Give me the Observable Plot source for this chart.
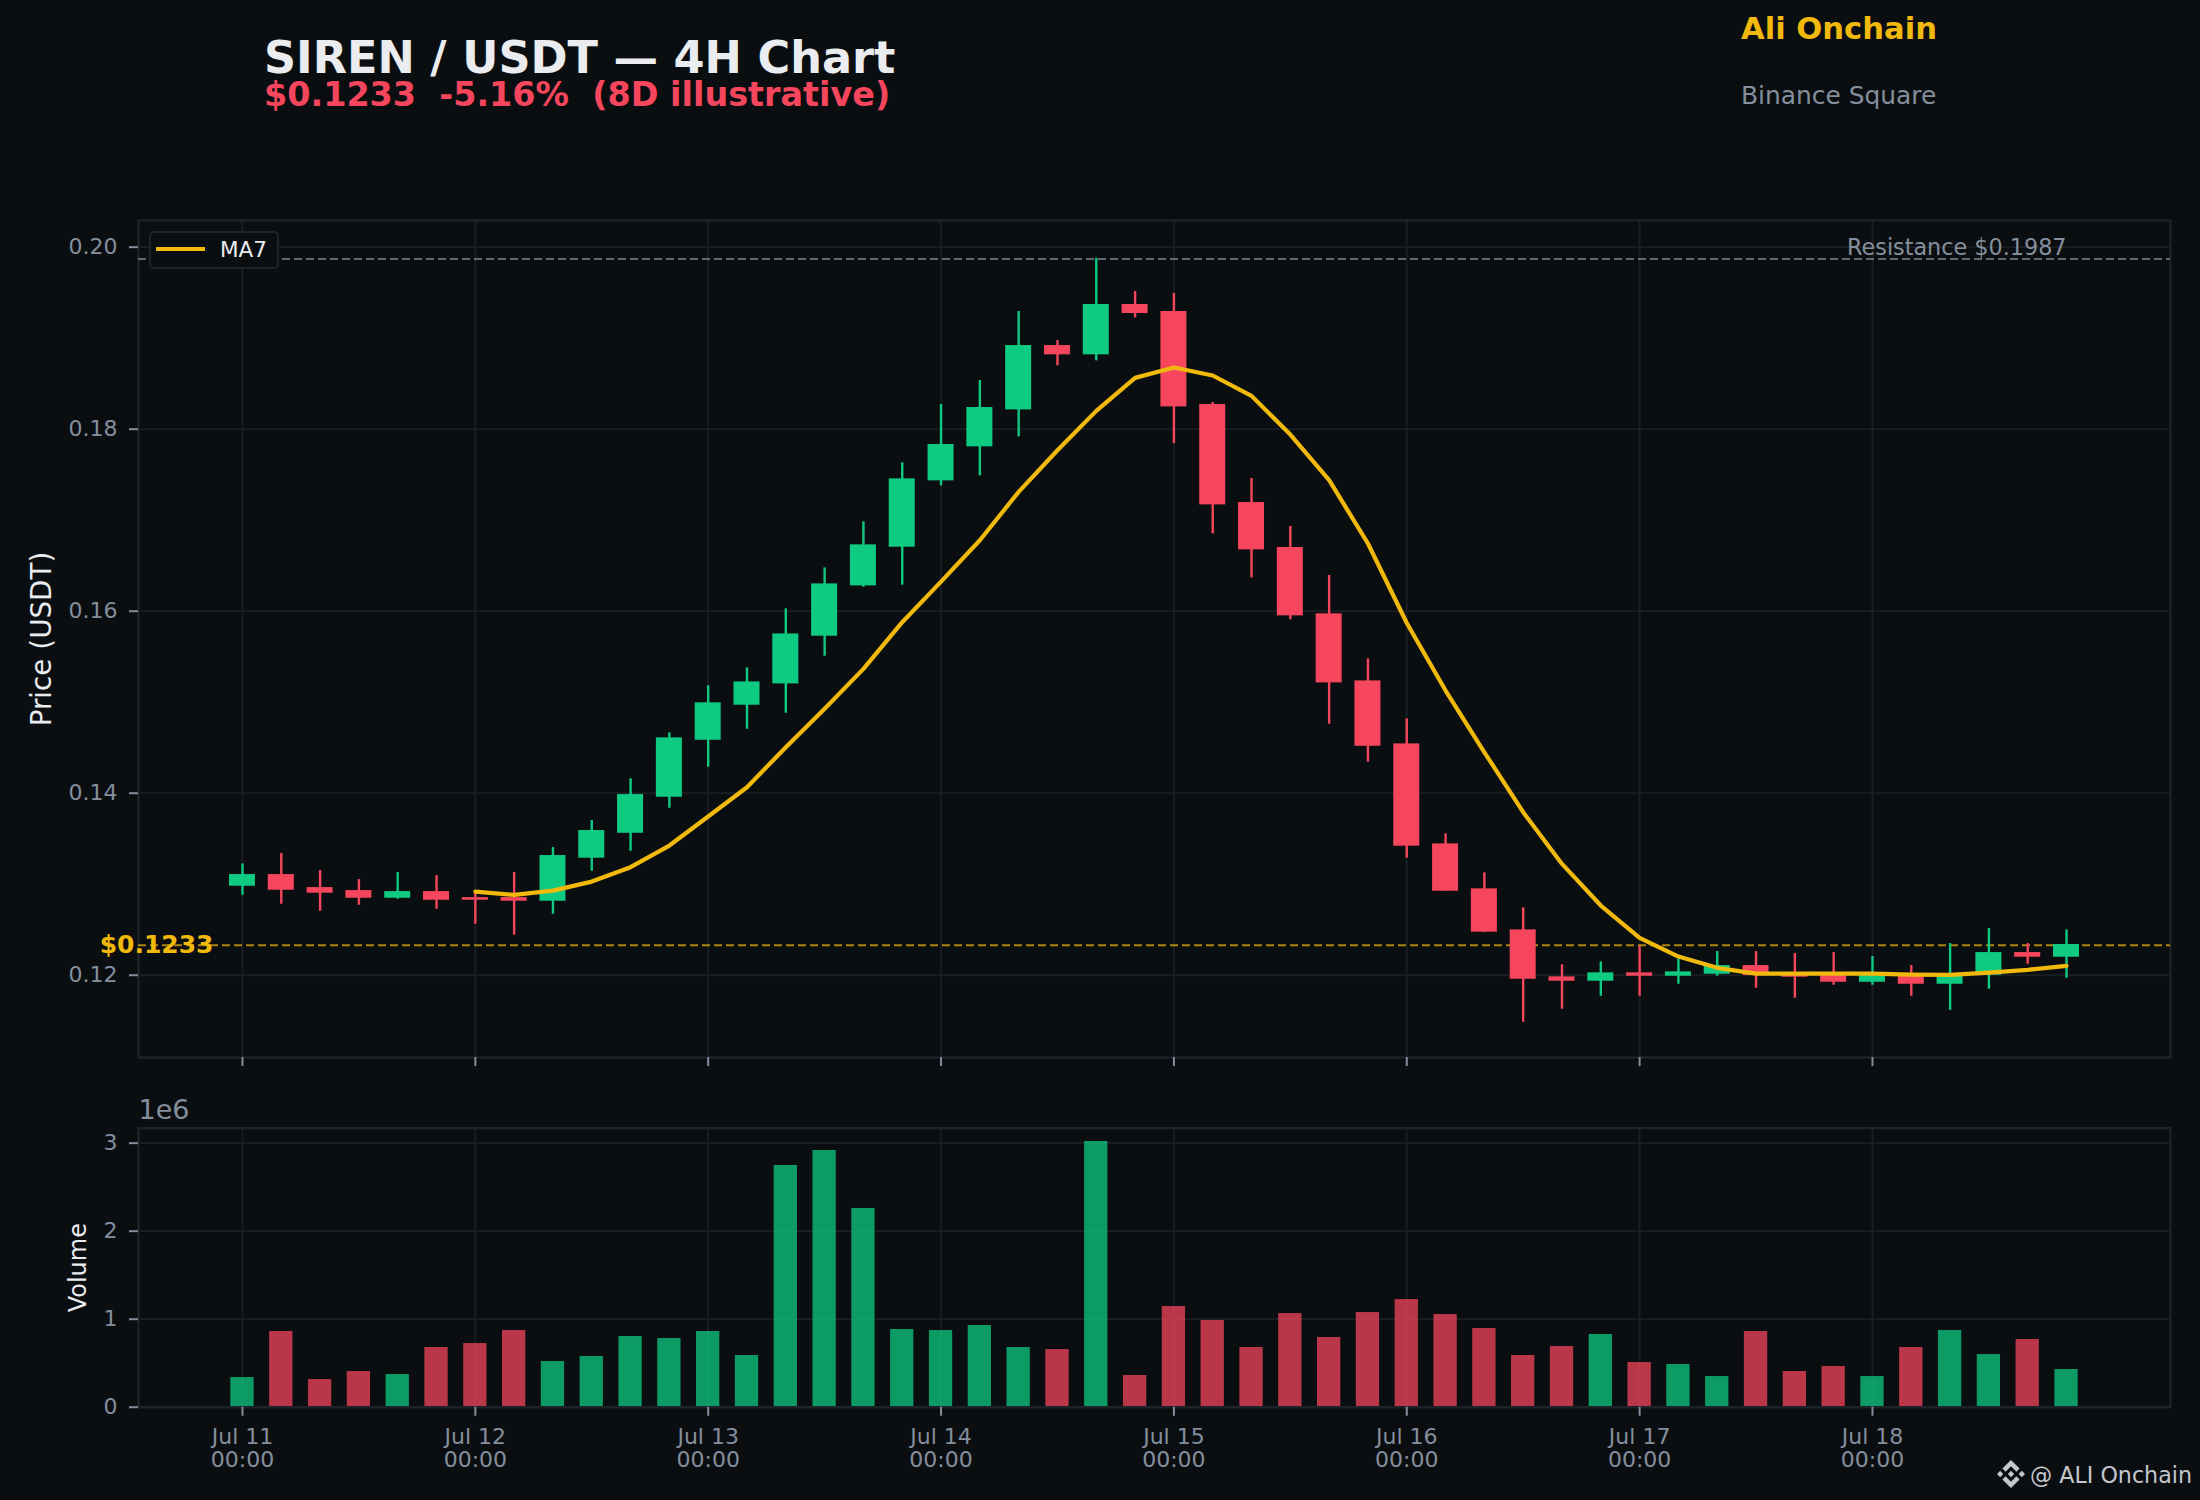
<!DOCTYPE html>
<html><head><meta charset="utf-8">
<script src="https://cdn.jsdelivr.net/npm/d3@7"></script>
<script src="https://cdn.jsdelivr.net/npm/@observablehq/plot@0.6"></script>
<style>
html,body{margin:0;padding:0;background:#0b0e11;}
#page{position:relative;width:2200px;height:1500px;overflow:hidden;background:#0b0e11;font-family:"DejaVu Sans",sans-serif;}
.t{position:absolute;white-space:pre;line-height:1;}
#priceChart,#volumeChart{position:absolute;left:0;}
#priceChart{top:200px;}
#volumeChart{top:1080px;}
svg{overflow:visible;}
#legend{position:absolute;left:149px;top:231px;width:130px;height:38px;border:2px solid #1e2329;border-radius:5px;box-sizing:border-box;background:#0b0e11;}
#legend i{position:absolute;left:5px;top:14px;width:49px;height:4px;background:#f0b90b;}
#legend span{position:absolute;left:69px;top:6px;font-size:21.5px;color:#eaecef;line-height:1;}
#mark{position:absolute;left:1997px;top:1460px;width:28px;height:28px;}
</style></head><body>
<div id="page">
  <div class="t" id="title" style="left:264px;top:36px;font-size:44.6px;font-weight:700;color:#eaecef">SIREN / USDT — 4H Chart</div>
  <div class="t" id="sub" style="left:264px;top:78px;font-size:33.4px;font-weight:700;color:#f6465d">$0.1233  -5.16%  (8D illustrative)</div>
  <div class="t" style="left:1741px;top:14px;font-size:30.6px;font-weight:700;color:#f0b90b">Ali Onchain</div>
  <div class="t" style="left:1741px;top:84px;font-size:24.9px;color:#848e9c">Binance Square</div>
  <div id="priceChart"></div>
  <div id="volumeChart"></div>
  <div id="legend"><i></i><span>MA7</span></div>
  <svg id="mark" viewBox="0 0 24 24"><path fill="#c4c7cc" d="M16.624 13.9202l2.7175 2.7154-7.353 7.353-7.353-7.352 2.7175-2.7164 4.6355 4.6595 4.6356-4.6595zm4.6366-4.6366L24 12l-2.7154 2.7164L18.5682 12l2.6924-2.7164zm-9.272.001l2.7163 2.6914-2.7164 2.7174v-.001L9.2721 12l2.7164-2.7154zm-9.2722-.001L5.4088 12l-2.6914 2.6924L0 12l2.7164-2.7164zM11.9885.0115l7.353 7.329-2.7174 2.7154-4.6356-4.6356-4.6355 4.6595-2.7174-2.7154 7.353-7.353z"/></svg>
  <div class="t" style="left:2030px;top:1464px;font-size:22.2px;color:#c4c7cc">@ ALI Onchain</div>
</div>
<script>
const times = ["07-11 00","07-11 04","07-11 08","07-11 12","07-11 16","07-11 20","07-12 00","07-12 04","07-12 08","07-12 12","07-12 16","07-12 20","07-13 00","07-13 04","07-13 08","07-13 12","07-13 16","07-13 20","07-14 00","07-14 04","07-14 08","07-14 12","07-14 16","07-14 20","07-15 00","07-15 04","07-15 08","07-15 12","07-15 16","07-15 20","07-16 00","07-16 04","07-16 08","07-16 12","07-16 16","07-16 20","07-17 00","07-17 04","07-17 08","07-17 12","07-17 16","07-17 20","07-18 00","07-18 04","07-18 08","07-18 12","07-18 16","07-18 20"];
const open = [.12978,.13106,.12963,.1293,.12846,.12919,.12853,.12853,.12813,.13286,.1356,.13956,.14582,.14967,.15201,.15725,.16278,.16703,.17432,.17806,.18212,.18919,.18817,.1937,.19293,.18271,.17194,.167,.15971,.15234,.14542,.13443,.12949,.12498,.11982,.11934,.12026,.11989,.12011,.12106,.12005,.1201,.11923,.1199,.11901,.12,.12249,.12198];
const close = [.13106,.12934,.12901,.12846,.12919,.12824,.12824,.12813,.13315,.1359,.13985,.14608,.14993,.15223,.1575,.163,.16729,.17454,.17832,.18238,.18919,.18817,.1937,.19271,.18245,.17168,.16674,.15949,.15212,.14516,.13418,.12923,.12473,.11956,.11934,.12026,.11989,.12037,.12106,.11996,.11978,.11923,.1201,.11901,.1199,.12249,.12198,.12337];
const high = [.13223,.13337,.1315,.13051,.13128,.13095,.12912,.13128,.13403,.137,.14158,.14663,.1518,.15377,.16026,.16476,.16982,.1763,.18271,.18535,.19293,.18974,.19879,.19513,.19491,.18293,.17458,.1693,.16392,.15476,.14817,.13553,.13125,.1274,.12114,.12147,.12315,.12179,.1226,.1226,.12238,.12249,.12205,.12106,.12348,.12513,.12348,.12498];
const low = [.12879,.1278,.12703,.12769,.12835,.12725,.1256,.1244,.1267,.13143,.13363,.13835,.14286,.14703,.14879,.15505,.16264,.16286,.17377,.17487,.17916,.18696,.18751,.19223,.17842,.1685,.16366,.15905,.14758,.14341,.13286,.12923,.12473,.11484,.11626,.11769,.11769,.11901,.11989,.11857,.11747,.1189,.1189,.11769,.11615,.11846,.12121,.11967];
const ma7 = [null,null,null,null,null,null,.12919,.12883,.1293,.13029,.13187,.13425,.13744,.14066,.14505,.14927,.15366,.15879,.16325,.1678,.17311,.17769,.18201,.18564,.18678,.1859,.18366,.17941,.1744,.16744,.1587,.15128,.1445,.13791,.13223,.12766,.1241,.12205,.12081,.12018,.12018,.12018,.12018,.12007,.12004,.12029,.12059,.12103];
const volume = [337000,860000,314000,405000,371000,678000,723000,871000,519000,576000,803000,780000,860000,587000,2746000,2917000,2258000,883000,871000,928000,678000,655000,3019000,360000,1144000,985000,678000,1064000,792000,1076000,1223000,1053000,894000,587000,689000,826000,508000,485000,348000,860000,405000,462000,348000,678000,871000,598000,769000,428000];
const priceTicks = [0.12,0.14,0.16,0.18,0.20];
const volumeTicks = [0,1e6,2e6,3e6];
const dayTicks = ["07-11 00","07-12 00","07-13 00","07-14 00","07-15 00","07-16 00","07-17 00","07-18 00"];
const dayLabels = ["Jul 11","Jul 12","Jul 13","Jul 14","Jul 15","Jul 16","Jul 17","Jul 18"];
const current = 0.1233, resistance = 0.1987;
const xDomain = [new Date("2025-07-10T13:17:00Z"), new Date("2025-07-19T06:43:00Z")];
const priceDomain = [0.11096, 0.20293];
const volumeDomain = [0, 3170000];

const BG="#0b0e11", UP="#0ecb81", DOWN="#f6465d", GOLD="#f0b90b", GREY="#848e9c", GRID="#1b1e23", SPINE="#1e2329", LIGHT="#eaecef";
const FONT='"DejaVu Sans", sans-serif';
const toDate = t => new Date(`2025-${t.replace(" ","T")}:00Z`);
const H4 = 4*3600*1000;
const rows = times.map((t,i)=>({t:toDate(t),open:open[i],close:close[i],high:high[i],low:low[i],ma:ma7[i],vol:volume[i],up:close[i]>=open[i]}));
const dayDates = dayTicks.map(toDate);
const dayFormat = d => `${dayLabels[dayDates.findIndex(x=>+x===+d)]}\n00:00`;
const baseStyle = {background:"transparent",fontFamily:FONT,overflow:"visible"};
const colorOf = d => d.up?UP:DOWN;

const price = Plot.plot({
  width:2200,height:880,marginTop:20,marginBottom:23,marginLeft:138,marginRight:30,style:baseStyle,
  x:{type:"utc",domain:xDomain,axis:null},
  y:{domain:priceDomain,axis:null},
  marks:[
    Plot.gridX(dayDates,{stroke:GRID,strokeOpacity:1,strokeWidth:1.8}),
    Plot.gridY(priceTicks,{stroke:GRID,strokeOpacity:1,strokeWidth:1.8}),
    Plot.frame({stroke:SPINE,strokeWidth:2.4}),
    Plot.ruleY([resistance],{stroke:GREY,strokeOpacity:.7,strokeWidth:2.2,strokeDasharray:"8,4"}),
    Plot.ruleY([current],{stroke:GOLD,strokeOpacity:.7,strokeWidth:2,strokeDasharray:"8,4"}),
    Plot.ruleX(rows,{x:"t",y1:"low",y2:"high",stroke:colorOf,strokeWidth:2.4}),
    Plot.rect(rows,{x1:d=>new Date(+d.t-.335*H4),x2:d=>new Date(+d.t+.335*H4),y1:"open",y2:"close",fill:colorOf}),
    Plot.line(rows.filter(d=>d.ma!==null),{x:"t",y:"ma",stroke:GOLD,strokeWidth:4.2,curve:"linear"}),
    Plot.axisX(dayDates,{anchor:"bottom",tickSize:9,stroke:GREY,strokeWidth:2,tickFormat:null,label:null,text:null}),
    Plot.axisY(priceTicks,{anchor:"left",tickSize:9,tickPadding:12,tickFormat:d3.format(".2f"),color:GREY,strokeWidth:2,fontSize:22,label:null}),
    Plot.text(["Resistance $0.1987"],{x:()=>rows[47].t,y:()=>resistance,text:d=>d,dy:-11,textAnchor:"end",fill:GREY,fontSize:22.3}),
    Plot.text(["$0.1233"],{frameAnchor:"left",y:()=>current,text:d=>d,dx:75,textAnchor:"end",fill:GOLD,fontSize:25,fontWeight:700}),
    Plot.text(["Price (USDT)"],{frameAnchor:"left",text:d=>d,dx:-96,rotate:-90,textAnchor:"middle",fill:LIGHT,fontSize:27.8})
  ]
});
document.getElementById("priceChart").append(price);

const vol = Plot.plot({
  width:2200,height:420,marginTop:47.7,marginBottom:93.3,marginLeft:138,marginRight:30,style:baseStyle,
  x:{type:"utc",domain:xDomain,axis:null},
  y:{domain:volumeDomain,axis:null},
  marks:[
    Plot.gridX(dayDates,{stroke:GRID,strokeOpacity:1,strokeWidth:1.8}),
    Plot.gridY(volumeTicks,{stroke:GRID,strokeOpacity:1,strokeWidth:1.8}),
    Plot.rect(rows,{x1:d=>new Date(+d.t-.3*H4),x2:d=>new Date(+d.t+.3*H4),y1:0,y2:"vol",fill:colorOf,fillOpacity:.75}),
    Plot.frame({stroke:SPINE,strokeWidth:2.4}),
    Plot.axisX(dayDates,{anchor:"bottom",tickSize:9,tickPadding:11,stroke:GREY,strokeWidth:2,tickFormat:dayFormat,color:GREY,fontSize:22,label:null,lineHeight:1.05}),
    Plot.axisY(volumeTicks,{anchor:"left",tickSize:9,tickPadding:12,tickFormat:d=>d/1e6,color:GREY,strokeWidth:2,fontSize:22,label:null}),
    Plot.text(["1e6"],{frameAnchor:"top-left",text:d=>d,dy:-28,textAnchor:"start",fill:GREY,fontSize:27}),
    Plot.text(["Volume"],{frameAnchor:"left",text:d=>d,dx:-60,rotate:-90,textAnchor:"middle",fill:LIGHT,fontSize:24})
  ]
});
document.getElementById("volumeChart").append(vol);
</script>
</body></html>
